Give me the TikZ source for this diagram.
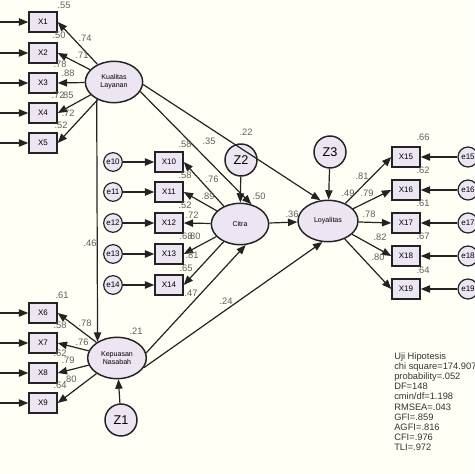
\documentclass[tikz,border=0pt]{standalone}
\usepackage{fontspec}
\setmainfont{Liberation Sans}
\usetikzlibrary{arrows.meta,shapes.geometric}
\definecolor{bgcream}{RGB}{255,255,246}
\definecolor{boxfill}{RGB}{237,229,241}
\definecolor{lblgray}{RGB}{95,95,95}
\definecolor{linegray}{RGB}{35,35,35}

\begin{document}
\begin{tikzpicture}[x=0.75pt,y=0.75pt,yscale=-1,xscale=1,
  obs/.style={draw=linegray,line width=1.1pt,fill=boxfill,minimum width=21pt,minimum height=15pt,inner sep=0pt,font=\fontsize{6}{7}\selectfont},
  lat/.style={ellipse,draw=linegray,line width=1.1pt,fill=boxfill,minimum width=43pt,minimum height=31pt,inner sep=0pt,align=center,font=\fontsize{5.3}{6}\selectfont},
  err/.style={circle,draw=linegray,line width=0.9pt,fill=boxfill,minimum size=14pt,inner sep=0pt,font=\fontsize{6}{7}\selectfont},
  dist/.style={circle,draw=linegray,line width=1.1pt,fill=boxfill,minimum size=24pt,inner sep=0pt,font=\fontsize{9.5}{10}\selectfont},
  arr/.style={draw=linegray,line width=0.9pt,-{Triangle[length=7pt,width=5.5pt]}},
  lbl/.style={text=lblgray,inner sep=0pt,font=\fontsize{7}{8}\selectfont}]

\fill[bgcream] (0,0) rectangle (474,474);
\useasboundingbox (0,0) rectangle (474,474);

% latent variables
\node[lat] (kual) at (114,82) {Kualitas\\Layanan};
\node[lat,minimum width=44pt] (kep) at (117,358) {Kepuasan\\Nasabah};
\node[lat] (citra) at (240,224) {Citra};
\node[lat,minimum width=45pt] (loy) at (328,221) {Loyalitas};

% disturbances
\node[dist] (z1) at (121,420) {Z1};
\node[dist] (z2) at (241,160) {Z2};
\node[dist] (z3) at (330,152) {Z3};

% left indicators, error terms off the page
\foreach \i/\y in {1/22,2/53,3/83,4/113,5/143,6/313,7/343,8/373,9/403}{
  \node[obs] (x\i) at (43,\y) {X\i};
  \coordinate (u\i) at (0,\y);
  \draw[arr] (u\i) -- (x\i);
}
\foreach \i in {1,...,5} \draw[arr] (kual) -- (x\i.east);
\foreach \i in {6,...,9} \draw[arr] (kep) -- (x\i.east);

% Citra indicators
\foreach \i/\y in {10/162,11/192,12/223,13/254,14/285}{
  \node[err] (e\i) at (113,\y) {e\i};
  \node[obs] (x\i) at (169,\y) {X\i};
  \draw[arr] (e\i) -- (x\i);
  \draw[arr] (citra) -- (x\i.east);
}

% Loyalitas indicators
\foreach \i/\y in {15/157,16/190,17/223,18/256,19/289}{
  \node[err,minimum size=15pt] (e\i) at (468,\y) {e\i};
  \node[obs] (x\i) at (406,\y) {X\i};
  \draw[arr] (e\i) -- (x\i);
  \draw[arr] (loy) -- (x\i.west);
}

% structural paths
\draw[arr] (kual.-135) -- (kep.140);
\draw[arr] (kual.-20) -- (citra.60);
\draw[arr] (kual.-5) -- (loy.110);
\draw[arr] (kep.10) -- (citra.-75);
\draw[arr] (kep.-20) -- (loy.-105);
\draw[arr] (citra) -- (loy);
\draw[arr] (z1) -- (kep);
\draw[arr] (z2) -- (citra);
\draw[arr] (z3) -- (loy);

% Text Node
\foreach \n/\x/\y/\t in {a/64/5/.55,b/59/35/.50,c/60/64/.78,d/58/95/.72,e/61/125/.52,
  f/85/38/.74,g/82/55/.71,h/68/73/.88,i/67/95/.85,j/68/113/.72,
  k/62/295/.61,l/85/323/.78,m/60/325/.58,n/82/342/.76,o/60/353/.62,p/68/360/.79,q/70/379/.80,r/60/385/.64,
  s/90/243/.46,t/136/331/.21,
  u/185/144/.58,v/209/141/.35,w/246/132/.22,
  aa/185/175/.58,ab/212/179/.76,ac/208/196/.89,ad/185/205/.52,ae/192/215/.72,
  af/186/236/.68,ag/194/236/.80,ah/192/255/.81,ai/186/268/.65,aj/191/293/.47,
  ak/226/301/.24,al/259/196/.50,am/292/214/.36,an/348/193/.49,
  ao/362/176/.81,ap/367/193/.79,aq/369/214/.78,ar/380/237/.82,as/378/257/.80,
  at/423/137/.66,au/423/170/.62,av/423/203/.61,aw/423/236/.67,ax/423/270/.64}
  \node[lbl] (l\n) at (\x,\y) {\t};

% Text Node
\node[anchor=north west,inner sep=0pt,align=left,text=black!80,font=\fontsize{7}{7.65}\selectfont] (fit) at (394,352)
  {Uji Hipotesis\\chi square=174.907\\probability=.052\\DF=148\\cmin/df=1.198\\RMSEA=.043\\GFI=.859\\AGFI=.816\\CFI=.976\\TLI=.972};

\end{tikzpicture}
\end{document}
